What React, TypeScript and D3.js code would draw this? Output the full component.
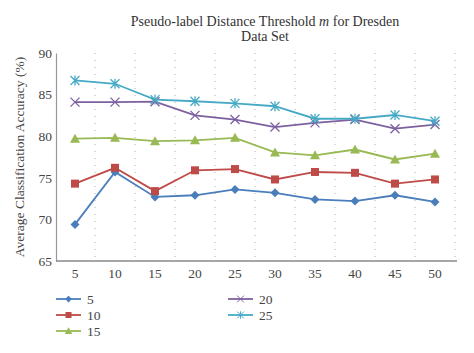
import React, { useEffect, useRef } from "react";
import * as d3 from "d3";

const thresholds = ["5", "10", "15", "20", "25", "30", "35", "40", "45", "50"];
const seriesNames = ["5", "10", "15", "20", "25"];
const acc5 = [69.4, 75.7, 72.7, 72.9, 73.6, 73.2, 72.4, 72.2, 72.9, 72.1];
const acc10 = [74.3, 76.2, 73.4, 75.9, 76.05, 74.8, 75.7, 75.6, 74.3, 74.8];
const acc15 = [79.7, 79.8, 79.4, 79.5, 79.8, 78.05, 77.7, 78.4, 77.2, 77.9];
const acc20 = [84.1, 84.1, 84.15, 82.5, 82.0, 81.1, 81.6, 82.0, 80.9, 81.4];
const acc25 = [86.7, 86.3, 84.4, 84.2, 83.95, 83.6, 82.1, 82.1, 82.55, 81.8];
const yTicks = [65, 70, 75, 80, 85, 90];

const colors = ["#4a7ebb", "#be4b48", "#98b954", "#7d60a0", "#46aac5"];
const markers = ["diamond", "square", "triangle", "cross", "star"];

const W = 474;
const H = 353;
const FONT = "'Liberation Serif', 'DejaVu Serif', serif";

function drawMarker(g: any, type: string, x: number, y: number, color: string) {
  if (type === "diamond") {
    g.append("path")
      .attr("d", `M${x},${y - 4.5}L${x + 4.5},${y}L${x},${y + 4.5}L${x - 4.5},${y}Z`)
      .attr("fill", color);
  } else if (type === "square") {
    g.append("rect")
      .attr("x", x - 4)
      .attr("y", y - 4)
      .attr("width", 8)
      .attr("height", 8)
      .attr("fill", color);
  } else if (type === "triangle") {
    g.append("path")
      .attr("d", `M${x},${y - 5}L${x + 5},${y + 4}L${x - 5},${y + 4}Z`)
      .attr("fill", color);
  } else if (type === "cross") {
    g.append("path")
      .attr("d", `M${x - 4.5},${y - 4.5}L${x + 4.5},${y + 4.5}M${x - 4.5},${y + 4.5}L${x + 4.5},${y - 4.5}`)
      .attr("stroke", color)
      .attr("stroke-width", 1.3);
  } else {
    g.append("path")
      .attr(
        "d",
        `M${x - 4.5},${y - 4.5}L${x + 4.5},${y + 4.5}M${x - 4.5},${y + 4.5}L${x + 4.5},${y - 4.5}M${x},${y - 5}L${x},${y + 5}`
      )
      .attr("stroke", color)
      .attr("stroke-width", 1.3);
  }
}

export default function App() {
  const ref = useRef<SVGSVGElement>(null);

  useEffect(() => {
    const svg = d3.select(ref.current);
    svg.selectAll("*").remove();

    const allSeries = [acc5, acc10, acc15, acc20, acc25];

    const x = d3.scaleBand().domain(thresholds).range([55, 455]);
    const y = d3.scaleLinear().domain([65, 90]).range([261, 53]);
    const cx = (d: string) => (x(d) as number) + x.bandwidth() / 2;

    // title
    const title = svg
      .append("text")
      .attr("text-anchor", "middle")
      .style("font-family", FONT)
      .style("font-size", "14px")
      .style("fill", "#333");
    const line1 = title.append("tspan").attr("x", 265).attr("y", 26);
    line1.append("tspan").text("Pseudo-label Distance Threshold ");
    line1.append("tspan").style("font-style", "italic").text("m");
    line1.append("tspan").text(" for Dresden");
    title.append("tspan").attr("x", 265).attr("y", 41).text("Data Set");

    // vertical dotted grid
    const grid = [...thresholds.slice(1).map((d) => x(d) as number), 455];
    svg
      .append("g")
      .selectAll("line")
      .data(grid)
      .enter()
      .append("line")
      .attr("x1", (d) => d)
      .attr("x2", (d) => d)
      .attr("y1", y(90))
      .attr("y2", y(65))
      .attr("stroke", "#b0b0b0")
      .attr("stroke-width", 1)
      .attr("stroke-dasharray", "1,6");

    // axes
    const yAxis = svg
      .append("g")
      .attr("transform", "translate(56,0)")
      .call(d3.axisLeft(y).tickValues(yTicks).tickSize(0).tickPadding(4));
    yAxis.select(".domain").attr("stroke", "#999").attr("stroke-width", 1.2);
    yAxis
      .selectAll("text")
      .style("font-family", FONT)
      .style("font-size", "13.5px")
      .style("fill", "#444");

    const xAxis = svg
      .append("g")
      .attr("transform", "translate(0,261)")
      .call(d3.axisBottom(x).tickSize(0).tickPadding(7));
    xAxis
      .select(".domain")
      .attr("d", "M56,0H457")
      .attr("stroke", "#888")
      .attr("stroke-width", 1.6);
    xAxis
      .selectAll("text")
      .style("font-family", FONT)
      .style("font-size", "13.5px")
      .style("fill", "#444");

    svg
      .append("text")
      .attr("transform", `translate(24,${(y(90) + y(65)) / 2}) rotate(-90)`)
      .attr("text-anchor", "middle")
      .style("font-family", FONT)
      .style("font-size", "13.5px")
      .style("fill", "#444")
      .text("Average Classification Accuracy (%)");

    // lines and markers
    const line = d3
      .line<number>()
      .x((_, i) => cx(thresholds[i]))
      .y((d) => y(d));

    allSeries.forEach((vals, s) => {
      const g = svg.append("g");
      g.append("path")
        .attr("d", line(vals))
        .attr("fill", "none")
        .attr("stroke", colors[s])
        .attr("stroke-width", 1.8);
      vals.forEach((v, i) => drawMarker(g, markers[s], cx(thresholds[i]), y(v), colors[s]));
    });

    // legend
    const legendPos = [
      [56, 299],
      [56, 315],
      [56, 331],
      [228, 299],
      [228, 315],
    ];
    seriesNames.forEach((name, s) => {
      const [lx, ly] = legendPos[s];
      const g = svg.append("g");
      g.append("line")
        .attr("x1", lx)
        .attr("x2", lx + 25)
        .attr("y1", ly)
        .attr("y2", ly)
        .attr("stroke", colors[s])
        .attr("stroke-width", 1.8);
      const mg = g.append("g");
      drawMarker(mg, markers[s], lx + 12.5, ly, colors[s]);
      mg.attr("transform", `translate(${lx + 12.5},${ly}) scale(0.75) translate(${-(lx + 12.5)},${-ly})`);
      g.append("text")
        .attr("x", lx + 31)
        .attr("y", ly)
        .attr("dy", "0.35em")
        .style("font-family", FONT)
        .style("font-size", "13.5px")
        .style("fill", "#444")
        .text(name);
    });
  }, []);

  return (
    <div style={{ margin: -8, background: "#fff" }}>
      <svg ref={ref} width={W} height={H} style={{ display: "block" }} />
    </div>
  );
}
